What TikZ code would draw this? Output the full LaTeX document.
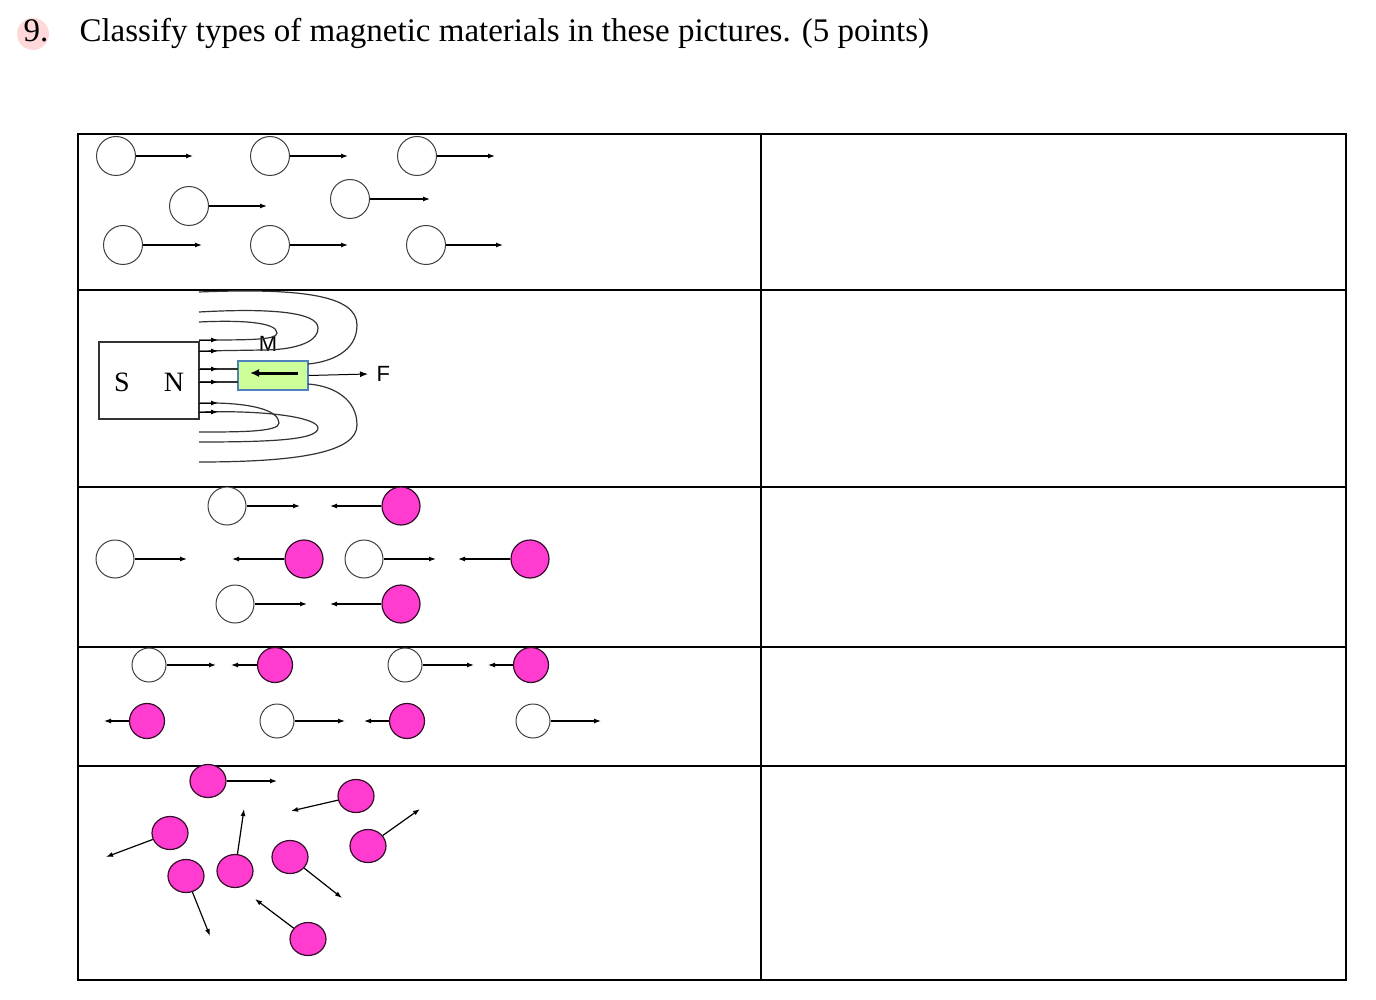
\documentclass[tikz,border=0pt]{standalone}
\usepackage{fontspec}
\setmainfont{Liberation Serif}
\setsansfont{Liberation Sans}
\usetikzlibrary{arrows.meta,positioning,shapes.geometric}
\definecolor{spinpink}{HTML}{FF3CCF}
\definecolor{boxgreen}{HTML}{CCFF99}
\definecolor{boxblue}{HTML}{4F81BD}
\tikzset{
    grid/.style={draw=black, line width=1.2pt},
    openspin/.style={circle, draw=black!75, line width=1pt, fill=white, minimum size=#1, inner sep=0pt},
    fullspin/.style={ellipse, draw=black!80!spinpink, line width=1.2pt, fill=spinpink, minimum width=#1, minimum height=#1, inner sep=0pt},
    moment/.style={-{Latex[length=7pt,width=5pt]}, line width=1.2pt},
    fieldline/.style={line width=1.2pt, black!80},
    fieldarrow/.style={-{Latex[length=7pt,width=5pt]}, line width=1pt},
}
\newcommand{\spinarrow}[6]{% name, x, y, style, tip x, tip y
  \node[#4] (#1) at (#2,#3) {};
  \coordinate (#1t) at (#5,#6);
  \draw[moment] (#1) -- (#1t);
}
\begin{document}
\begin{tikzpicture}[x=1pt,y=-1pt]
\useasboundingbox (0,0) rectangle (1376,1000);

% question
\fill[red!15] (33,34) circle (16);
\node[anchor=base west, font=\fontsize{33}{36}\selectfont] (qnum) at (20,42) {9.};
\node[anchor=base west, font=\fontsize{33}{36}\selectfont] (question) at (76,42)
  {Classify types of magnetic materials in these pictures. (5 points)};

% table
\draw[grid] (78,134) rectangle (1346,980);
\draw[grid] (761,134) -- (761,980);
\foreach \y in {290,487,647,766}
  \draw[grid] (78,\y) -- (1346,\y);

% row 1: ferromagnet
\foreach \n/\x/\y/\u/\v in {a/116/156/193/156, b/270/156/348/156, c/417/156/495/156,
                            d/189/206/267/206, e/350/199/430/199,
                            f/123/245/202/245, g/270/245/348/245, h/426/245/503/245}
  {\spinarrow{r1\n}{\x}{\y}{openspin=39pt}{\u}{\v}}

% row 2: diamagnet in front of a magnet
\node[draw=black!80, line width=1.2pt, minimum width=100pt, minimum height=77pt,
  inner sep=0pt] (magnet) at (149,380.5) {};
\node[font=\fontsize{28}{30}\selectfont] (south) at (122,382) {S};
\node[font=\fontsize{28}{30}\selectfont] (north) at (174,382) {N};
\node[draw=boxblue, line width=1.2pt, fill=boxgreen, minimum width=70pt,
  minimum height=29pt, inner sep=0pt] (sample) at (273,375.5) {};
\coordinate (mtail) at (298,373);
\coordinate (mhead) at (250,373);
\draw[-{Latex[length=9pt,width=8pt]}, line width=3pt] (mtail) -- (mhead);
\node[font=\sffamily\fontsize{22}{24}\selectfont] (mlabel) at (268,344) {M};
\coordinate (force) at (368,374);
\node[font=\sffamily\fontsize{22}{24}\selectfont, anchor=west] (flabel) at (373,374) {F};
\draw[-{Latex[length=8pt,width=6pt]}, line width=1pt] (sample.east) -- (force);
% field lines
\draw[fieldline] (199,292) .. controls (300,288) and (357,295) .. (357,325)
  .. controls (357,352) and (330,362) .. (308,364);
\draw[fieldline] (199,312) .. controls (270,308) and (318,312) .. (318,328)
  .. controls (318,344) and (290,350) .. (263,350) -- (199,351);
\draw[fieldline] (199,322) .. controls (240,320) and (277,322) .. (277,333)
  .. controls (277,340) and (250,340) .. (199,340);
\draw[fieldline] (199,369) -- (238,369);
\draw[fieldline] (199,382) -- (238,382);
\draw[fieldline] (199,403) .. controls (250,402) and (279,410) .. (279,423)
  .. controls (279,432) and (240,432) .. (199,432);
\draw[fieldline] (199,412) .. controls (270,410) and (318,418) .. (318,428)
  .. controls (318,440) and (270,442) .. (199,442);
\draw[fieldline] (308,384) .. controls (335,386) and (357,400) .. (357,425)
  .. controls (357,452) and (300,462) .. (199,462);
\foreach \y in {340,351,369,382,403,412}
  \draw[fieldarrow] (199,\y) -- (218,\y);

% row 3: antiferromagnet
\foreach \n/\x/\y/\u/\v in {a/227/506/300/506, b/115/559/187/559, c/364/559/436/559, d/235/604/307/604}
  {\spinarrow{r3\n}{\x}{\y}{openspin=38pt}{\u}{\v}}
\foreach \n/\x/\y/\u/\v in {e/401/506/330/506, f/304/559/232/559, g/530/559/458/559, h/401/604/330/604}
  {\spinarrow{r3\n}{\x}{\y}{fullspin=38pt}{\u}{\v}}

% row 4: ferrimagnet
\foreach \n/\x/\y/\u/\v in {a/149/665/216/665, b/405/665/474/665, c/277/721/345/721, d/533/721/601/721}
  {\spinarrow{r4\n}{\x}{\y}{openspin=34pt}{\u}{\v}}
\foreach \n/\x/\y/\u/\v in {e/275/665/231/665, f/531/665/488/665, g/147/721/104/721, h/407/721/364/721}
  {\spinarrow{r4\n}{\x}{\y}{fullspin=35pt}{\u}{\v}}

% row 5: paramagnet
\foreach \n/\x/\y/\u/\v in {a/208/781/277/781, b/356/796/291/811, c/170/833/106/857, d/368/846/420/809,
                            e/186/876/210/936, f/235/871/244/809, g/290/857/342/898, h/308/939/255/899}
  {\spinarrow{r5\n}{\x}{\y}{fullspin=33pt, minimum width=36pt}{\u}{\v}}

\end{tikzpicture}
\end{document}
